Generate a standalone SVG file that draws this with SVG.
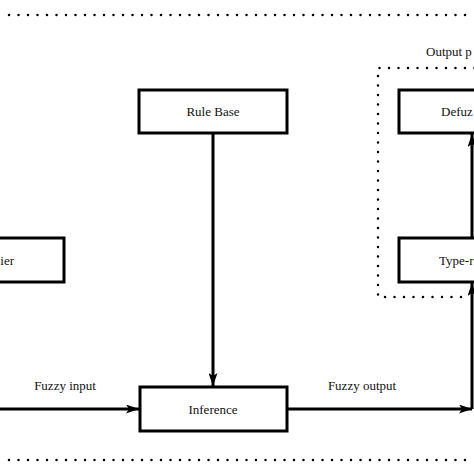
<svg xmlns="http://www.w3.org/2000/svg" width="474" height="474" viewBox="0 0 474 474">
<style>
.box{fill:#fff;stroke:#000;stroke-width:3}
.lbl{font-family:"Liberation Serif","Times New Roman",serif;font-size:13px;fill:#111;text-anchor:middle}
.st{text-anchor:start}
.en{text-anchor:end}
.con{stroke:#000;stroke-width:3;fill:none}
.dot{stroke:#000;stroke-width:2.5;fill:none;stroke-dasharray:0 9.5;stroke-linecap:round}
</style>
<defs>
<marker id="ah" viewBox="0 0 13 9" refX="13" refY="4.5" markerWidth="13" markerHeight="9" markerUnits="userSpaceOnUse" orient="auto">
<path d="M0,0 L13,4.5 L0,9 L3,4.5 Z" fill="#000"/>
</marker>
</defs>
<rect width="474" height="474" fill="#fff"/>
<g id="frame">
<line class="dot" x1="9" y1="15" x2="474" y2="15"/>
<line class="dot" x1="9" y1="460" x2="474" y2="460"/>
</g>
<g id="output-processing">
<path class="dot" d="M560,68 H378 V297 H470"/>
<text class="lbl st" x="426" y="56">Output p</text>
</g>
<g id="connectors">
<line class="con" x1="213" y1="133" x2="213" y2="386" marker-end="url(#ah)"/>
<line class="con" x1="0" y1="409" x2="139" y2="409" marker-end="url(#ah)"/>
<path class="con" d="M287,409 H472" marker-end="url(#ah)"/>
<path class="con" d="M472,409 V283" marker-end="url(#ah)"/>
<line class="con" x1="472" y1="238" x2="472" y2="134" marker-end="url(#ah)"/>
<text class="lbl" x="65" y="390">Fuzzy input</text>
<text class="lbl" x="362" y="390">Fuzzy output</text>
</g>
<g id="rule-base">
<rect class="box" x="139" y="90" width="148" height="43"/>
<text class="lbl" x="213" y="116">Rule Base</text>
</g>
<g id="inference">
<rect class="box" x="140" y="387" width="147" height="44"/>
<text class="lbl" x="213" y="414">Inference</text>
</g>
<g id="fuzzifier">
<rect class="box" x="-84" y="238" width="148" height="44"/>
<text class="lbl en" x="14" y="265">ier</text>
</g>
<g id="defuzzifier">
<rect class="box" x="399" y="90" width="148" height="43"/>
<text class="lbl st" x="441" y="116">Defuz</text>
</g>
<g id="type-reducer">
<rect class="box" x="399" y="238" width="148" height="44"/>
<text class="lbl st" x="439" y="265">Type-r</text>
</g>
</svg>
